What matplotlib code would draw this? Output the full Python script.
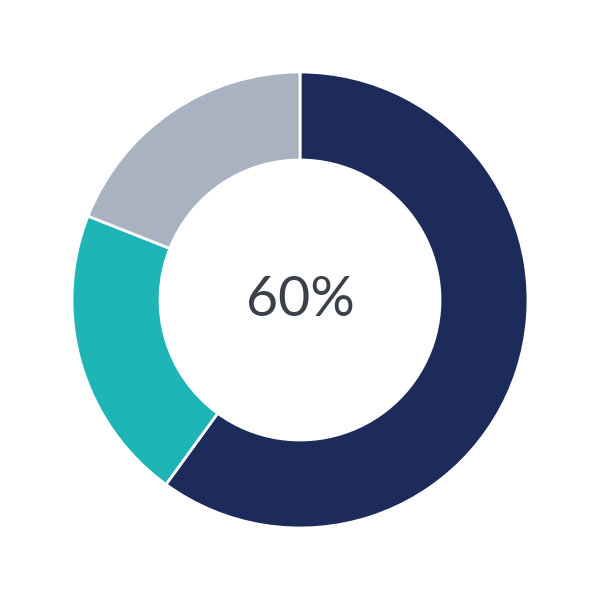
import matplotlib
matplotlib.use("Agg")
import matplotlib.pyplot as plt

# segment shares, going clockwise from the top
labels = ["Main", "Teal", "Grey"]
values = [60, 21, 19]
colors = ["#1c2b59", "#1db5b6", "#a8b2c1"]
center_text = "60%"

fig = plt.figure(figsize=(6, 6), dpi=100)
ax = fig.add_axes([0, 0, 1, 1])

outer_r = 228 / 300
ax.pie(values, colors=colors, startangle=90, counterclock=False,
       radius=outer_r,
       wedgeprops=dict(width=(228 - 140) / 300, edgecolor="white", linewidth=2))

ax.text(0, 0, center_text, ha="center", va="center", fontsize=40,
        family=["Lato", "DejaVu Sans"], color="#3b4049")

ax.set_xlim(-1, 1)
ax.set_ylim(-1, 1)
ax.set_aspect("equal")
ax.axis("off")

plt.savefig("out.png", dpi=100, facecolor="white")
